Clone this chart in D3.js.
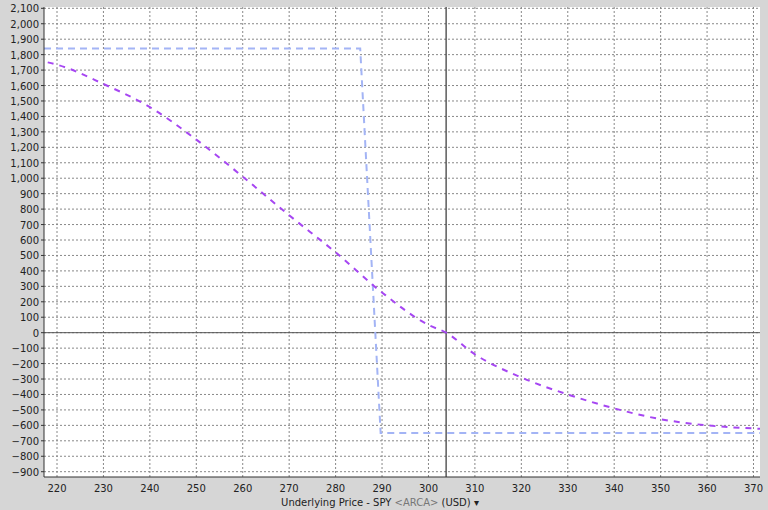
<!DOCTYPE html>
<html><head><meta charset="utf-8">
<script src="https://cdn.jsdelivr.net/npm/d3@7"></script>
<style>body{margin:0;background:#d6d6d6}svg{display:block}</style>
</head><body><svg id="c" width="768" height="510"></svg>
<script>
const xTicks = [220,230,240,250,260,270,280,290,300,310,320,330,340,350,360,370];
const yTicks = d3.range(-900, 2101, 100);
const curveX = [218,220,230,240,250,260,270,280,290,300,303.8,310,320,330,340,350,360,370,371.4];
const curveY = [1750,1735,1610,1460,1250,1010,760,520,260,50,0,-140,-290,-400,-490,-560,-600,-620,-622];
const stepX = [217.2,285.3,289.7,371.4];
const stepY = [1840,1840,-650,-650];
const currentPrice = 303.8;

const svg = d3.select('#c');
const L=44,R=760,T=7,B=477;
const x = d3.scaleLinear().domain([217.2,371.4]).range([L,R]);
const y = d3.scaleLinear().domain([-900,2100]).range([471.7,8.3]);

svg.append('rect').attr('x',L).attr('y',T).attr('width',R-L).attr('height',B-T).attr('fill','#fff');
const g = svg.append('g');
g.selectAll('.gx').data(xTicks).join('line').attr('x1',d=>x(d)).attr('x2',d=>x(d)).attr('y1',T).attr('y2',B)
 .attr('stroke','#888').attr('stroke-dasharray','2,2').attr('stroke-width',1);
g.selectAll('.gy').data(yTicks).join('line').attr('y1',d=>y(d)).attr('y2',d=>y(d)).attr('x1',L).attr('x2',R)
 .attr('stroke','#888').attr('stroke-dasharray','2,2').attr('stroke-width',1);
g.append('line').attr('x1',L).attr('x2',R).attr('y1',y(0)).attr('y2',y(0)).attr('stroke','#555');
g.append('line').attr('x1',x(currentPrice)).attr('x2',x(currentPrice)).attr('y1',T).attr('y2',B).attr('stroke','#333').attr('stroke-width',1.2);

const line = d3.line().x(d=>x(d[0])).y(d=>y(d[1]));
svg.append('path').datum(stepX.map((v,i)=>[v,stepY[i]])).attr('d',line).attr('fill','none')
 .attr('stroke','#a3b4f5').attr('stroke-width',2).attr('stroke-dasharray','7,5');
svg.append('path').datum(curveX.map((v,i)=>[v,curveY[i]])).attr('d',d3.line().curve(d3.curveMonotoneX).x(d=>x(d[0])).y(d=>y(d[1])))
 .attr('fill','none').attr('stroke','#a646f2').attr('stroke-width',2).attr('stroke-dasharray','6,6');

svg.append('line').attr('x1',L).attr('x2',L).attr('y1',T).attr('y2',B).attr('stroke','#333');
svg.append('line').attr('x1',L).attr('x2',R).attr('y1',B).attr('y2',B).attr('stroke','#333');

const fmt = d3.format(',');
svg.selectAll('.yl').data(yTicks).join('text').attr('x',39).attr('y',d=>y(d)+4).attr('text-anchor','end')
 .attr('font-family','DejaVu Sans').attr('font-size',10).attr('fill','#222').text(d=>fmt(d));
svg.selectAll('.yt').data(yTicks).join('line').attr('x1',L-3).attr('x2',L).attr('y1',d=>y(d)).attr('y2',d=>y(d)).attr('stroke','#333');
svg.selectAll('.xl').data(xTicks).join('text').attr('x',d=>x(d)).attr('y',492).attr('text-anchor','middle')
 .attr('font-family','DejaVu Sans').attr('font-size',10).attr('fill','#222').text(d=>d);
const t = svg.append('text').attr('x',380).attr('y',506).attr('text-anchor','middle').attr('font-family','DejaVu Sans').attr('font-size',10).attr('fill','#222');
t.append('tspan').text('Underlying Price - SPY ');
t.append('tspan').attr('fill','#777').text('<ARCA>');
t.append('tspan').text(' (USD) ▾');
</script></body></html>
